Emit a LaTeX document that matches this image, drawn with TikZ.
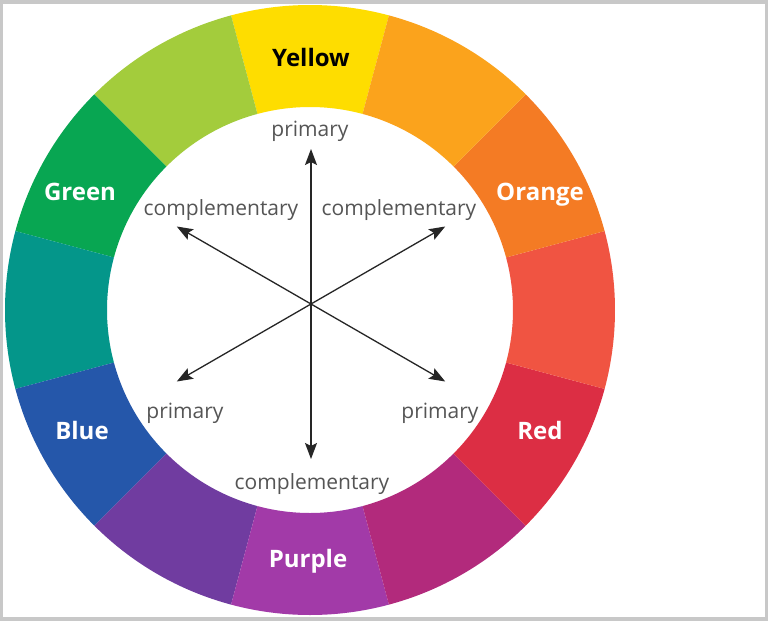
\documentclass[tikz,border=0pt]{standalone}
\usepackage{fontspec}
\setmainfont{Open Sans}
\usetikzlibrary{arrows.meta,positioning,calc}

\definecolor{cwYellow}{RGB}{254,221,0}
\definecolor{cwLime}{RGB}{163,204,60}
\definecolor{cwGreen}{RGB}{8,166,82}
\definecolor{cwTeal}{RGB}{4,150,138}
\definecolor{cwBlue}{RGB}{37,87,170}
\definecolor{cwViolet}{RGB}{112,60,160}
\definecolor{cwPurple}{RGB}{162,58,168}
\definecolor{cwMagenta}{RGB}{178,42,124}
\definecolor{cwRed}{RGB}{220,46,68}
\definecolor{cwRedOrange}{RGB}{240,84,66}
\definecolor{cwOrange}{RGB}{244,123,36}
\definecolor{cwAmber}{RGB}{251,163,28}
\definecolor{cwFrame}{RGB}{200,200,200}
\definecolor{cwText}{RGB}{85,85,85}

\begin{document}
\begin{tikzpicture}[
            x = 1pt, y = 1pt, % one unit = one pixel of the reference
            > = {Stealth[length=16pt,width=12pt,inset=3pt]}, % arrow head style
            semithick, % line style
            hue/.style = {font=\fontsize{24}{28}\selectfont\bfseries, text=white},
            role/.style = {font=\fontsize{21}{25}\selectfont, text=cwText},
            ray/.style = {->, draw=black!85, line width=1.3pt}
        ]

        % page and frame
        \useasboundingbox (-310,310) rectangle (458,-315);
        \fill[white] (-310,310) rectangle (458,-315);
        \fill[cwFrame] (-310,310) rectangle (458,306);
        \fill[cwFrame] (-310,310) rectangle (-307,-311);
        \fill[cwFrame] (-310,-307) rectangle (458,-311);
        \fill[cwFrame] (455,310) rectangle (458,-311);

        % the twelve segments of the wheel
        \fill[cwYellow]    (75:305)  arc[start angle=75,  end angle=105, radius=305] -- (105:203) arc[start angle=105, end angle=75,  radius=203] -- cycle;
        \fill[cwLime]      (105:305) arc[start angle=105, end angle=135, radius=305] -- (135:203) arc[start angle=135, end angle=105, radius=203] -- cycle;
        \fill[cwGreen]     (135:305) arc[start angle=135, end angle=165, radius=305] -- (165:203) arc[start angle=165, end angle=135, radius=203] -- cycle;
        \fill[cwTeal]      (165:305) arc[start angle=165, end angle=195, radius=305] -- (195:203) arc[start angle=195, end angle=165, radius=203] -- cycle;
        \fill[cwBlue]      (195:305) arc[start angle=195, end angle=225, radius=305] -- (225:203) arc[start angle=225, end angle=195, radius=203] -- cycle;
        \fill[cwViolet]    (225:305) arc[start angle=225, end angle=255, radius=305] -- (255:203) arc[start angle=255, end angle=225, radius=203] -- cycle;
        \fill[cwPurple]    (255:305) arc[start angle=255, end angle=285, radius=305] -- (285:203) arc[start angle=285, end angle=255, radius=203] -- cycle;
        \fill[cwMagenta]   (285:305) arc[start angle=285, end angle=315, radius=305] -- (315:203) arc[start angle=315, end angle=285, radius=203] -- cycle;
        \fill[cwRed]       (315:305) arc[start angle=315, end angle=345, radius=305] -- (345:203) arc[start angle=345, end angle=315, radius=203] -- cycle;
        \fill[cwRedOrange] (345:305) arc[start angle=345, end angle=375, radius=305] -- (15:203)  arc[start angle=375, end angle=345, radius=203] -- cycle;
        \fill[cwOrange]    (15:305)  arc[start angle=15,  end angle=45,  radius=305] -- (45:203)  arc[start angle=45,  end angle=15,  radius=203] -- cycle;
        \fill[cwAmber]     (45:305)  arc[start angle=45,  end angle=75,  radius=305] -- (75:203)  arc[start angle=75,  end angle=45,  radius=203] -- cycle;

        % colour names
        \node[hue, text=black] (yellow) at (1,253)     {Yellow};
        \node[hue]             (green)  at (-230,118)  {Green};
        \node[hue]             (orange) at (230,115)   {Orange};
        \node[hue]             (blue)   at (-228,-120) {Blue};
        \node[hue]             (red)    at (230,-120)  {Red};
        \node[hue]             (purple) at (-2,-251)   {Purple};

        % hub and arrow tips
        \coordinate (hub) at (1,6);
        \coordinate (tipN)  at ($(hub)+(90:155)$);
        \coordinate (tipNW) at ($(hub)+(150:155)$);
        \coordinate (tipSW) at ($(hub)+(210:155)$);
        \coordinate (tipS)  at ($(hub)+(270:155)$);
        \coordinate (tipSE) at ($(hub)+(330:155)$);
        \coordinate (tipNE) at ($(hub)+(30:155)$);

        \draw[ray] (hub) -- (tipN);
        \draw[ray] (hub) -- (tipNW);
        \draw[ray] (hub) -- (tipSW);
        \draw[ray] (hub) -- (tipS);
        \draw[ray] (hub) -- (tipSE);
        \draw[ray] (hub) -- (tipNE);

        % roles
        \node[role] (primN)  at (0,179)     {primary};
        \node[role] (compNW) at (-89,100)   {complementary};
        \node[role] (compNE) at (89,100)    {complementary};
        \node[role] (primSW) at (-125,-103) {primary};
        \node[role] (primSE) at (130,-103)  {primary};
        \node[role] (compS)  at (2,-174)    {complementary};
    \end{tikzpicture}
\end{document}
